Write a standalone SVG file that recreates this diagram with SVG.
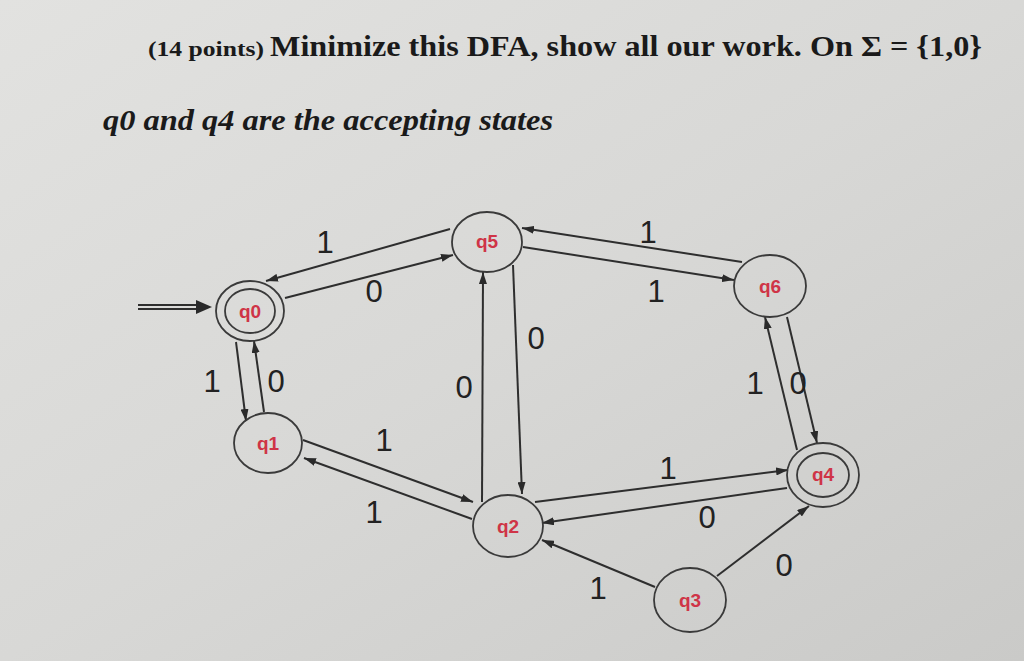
<svg xmlns="http://www.w3.org/2000/svg" width="1024" height="661" viewBox="0 0 1024 661">
<defs>
<linearGradient id="bg" x1="0" y1="0" x2="1" y2="1">
<stop offset="0" stop-color="#e2e2e0"/>
<stop offset="0.5" stop-color="#d8d8d6"/>
<stop offset="1" stop-color="#cacac8"/>
</linearGradient>
<marker id="ah" viewBox="0 0 12 8" refX="12" refY="4" markerWidth="12" markerHeight="8" markerUnits="userSpaceOnUse" orient="auto">
<path d="M0,0 L12,4 L0,8 z" fill="#2a2a2a"/>
</marker>
<style>
.st{fill:none;stroke:#3a3a3a;stroke-width:1.8}
.nl{font-family:"Liberation Sans",Arial,sans-serif;font-size:19px;font-weight:bold;fill:#cf3447;text-anchor:middle;dominant-baseline:central}
.e{fill:none;stroke:#2e2e2e;stroke-width:2;marker-end:url(#ah)}
.el{font-family:"Liberation Sans",Arial,sans-serif;font-size:31px;fill:#222;text-anchor:middle}
</style>
</defs>
<rect width="1024" height="661" fill="url(#bg)"/>
<g id="title">
<text x="148" y="56" font-family="'Liberation Serif','Times New Roman',serif" font-weight="bold" font-size="22" fill="#1a1a1a" textLength="116" lengthAdjust="spacingAndGlyphs">(14 points)</text>
<text x="270" y="56" font-family="'Liberation Serif','Times New Roman',serif" font-weight="bold" font-size="30" fill="#1a1a1a" textLength="712" lengthAdjust="spacingAndGlyphs">Minimize this DFA, show all our work. On Σ = {1,0}</text>
<text x="103" y="130" font-family="'Liberation Serif','Times New Roman',serif" font-weight="bold" font-style="italic" font-size="30" fill="#1a1a1a" textLength="450" lengthAdjust="spacingAndGlyphs">q0 and q4 are the accepting states</text>
</g>
<g id="connectors">
<g id="start">
<line x1="138" y1="305" x2="202" y2="305" stroke="#2e2e2e" stroke-width="1.8"/>
<line x1="138" y1="309" x2="202" y2="309" stroke="#2e2e2e" stroke-width="1.8"/>
<polygon points="196,300 212,307 196,314" fill="#2a2a2a"/>
</g>
<line class="e" x1="450" y1="229" x2="266" y2="281"/>
<line class="e" x1="285" y1="298" x2="453" y2="255"/>
<line class="e" x1="236" y1="342" x2="246" y2="421"/>
<line class="e" x1="264" y1="412" x2="254" y2="341"/>
<line class="e" x1="303" y1="440" x2="473" y2="502"/>
<line class="e" x1="472" y1="519" x2="304" y2="458"/>
<line class="e" x1="482" y1="502" x2="483" y2="272"/>
<line class="e" x1="513" y1="265" x2="522" y2="494"/>
<line class="e" x1="742" y1="262" x2="522" y2="228"/>
<line class="e" x1="523" y1="247" x2="734" y2="280"/>
<line class="e" x1="797" y1="450" x2="765" y2="317"/>
<line class="e" x1="787" y1="317" x2="817" y2="443"/>
<line class="e" x1="535" y1="502" x2="788" y2="470"/>
<line class="e" x1="787" y1="488" x2="542" y2="523"/>
<line class="e" x1="655" y1="587" x2="542" y2="540"/>
<line class="e" x1="717" y1="576" x2="809" y2="506"/>
<text class="el" x="325" y="253">1</text>
<text class="el" x="374" y="302">0</text>
<text class="el" x="212" y="392">1</text>
<text class="el" x="276" y="392">0</text>
<text class="el" x="384" y="451">1</text>
<text class="el" x="374" y="523">1</text>
<text class="el" x="464" y="398">0</text>
<text class="el" x="536" y="349">0</text>
<text class="el" x="648" y="243">1</text>
<text class="el" x="656" y="302">1</text>
<text class="el" x="755" y="394">1</text>
<text class="el" x="798" y="394">0</text>
<text class="el" x="668" y="479">1</text>
<text class="el" x="707" y="528">0</text>
<text class="el" x="598" y="599">1</text>
<text class="el" x="784" y="576">0</text>
</g>
<g id="q0">
<ellipse class="st" cx="250" cy="311" rx="34" ry="30"/>
<ellipse class="st" cx="250" cy="311" rx="25" ry="22"/>
<text class="nl" x="250" y="311">q0</text>
</g>
<g id="q5">
<ellipse class="st" cx="487" cy="242" rx="35" ry="30"/>
<text class="nl" x="487" y="241">q5</text>
</g>
<g id="q6">
<ellipse class="st" cx="770" cy="286" rx="36" ry="31"/>
<text class="nl" x="770" y="286">q6</text>
</g>
<g id="q1">
<ellipse class="st" cx="268" cy="443" rx="34" ry="30"/>
<text class="nl" x="268" y="443">q1</text>
</g>
<g id="q2">
<ellipse class="st" cx="508" cy="526" rx="35" ry="31"/>
<text class="nl" x="508" y="526">q2</text>
</g>
<g id="q4">
<ellipse class="st" cx="823" cy="475" rx="36" ry="32"/>
<ellipse class="st" cx="823" cy="475" rx="26" ry="22"/>
<text class="nl" x="823" y="474">q4</text>
</g>
<g id="q3">
<ellipse class="st" cx="690" cy="600" rx="36" ry="32"/>
<text class="nl" x="690" y="600">q3</text>
</g>
</svg>
